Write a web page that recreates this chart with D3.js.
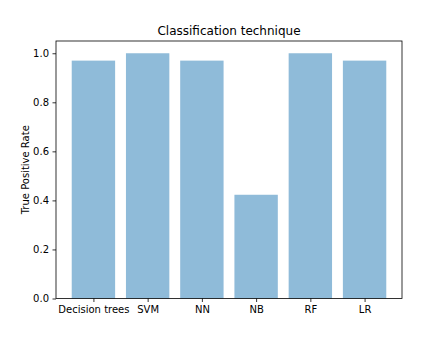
<!DOCTYPE html>
<html lang="en">
  <head>
    <title>Classification technique</title>
    <script src="https://cdn.jsdelivr.net/npm/d3@7"></script>
    <style>
      body { margin: 0; background-color: white; }
      text { font-family: "DejaVu Sans", sans-serif; }
    </style>
  </head>

  <body>
    <div id="container"></div>

<script>
    const techniques = ["Decision trees", "SVM", "NN", "NB", "RF", "LR"];
    const tpRates = [0.97, 1.0, 0.97, 0.423, 1.0, 0.97];
    const yTicks = [0.0, 0.2, 0.4, 0.6, 0.8, 1.0];

    const W = 448, H = 350;
    const margin = {top: 41, right: 46, bottom: 51.5, left: 56};
    const width = W - margin.left - margin.right;
    const height = H - margin.top - margin.bottom;

    const svg = d3.select("#container").append("svg")
      .attr("width", W)
      .attr("height", H);

    const g = svg.append("g")
      .attr("transform", `translate(${margin.left}, ${margin.top})`);

    // matplotlib-like x range: bars at integer positions, width 0.8, 5% margins
    const n = techniques.length;
    const span = (n - 1) + 0.8;
    const xAxis = d3.scaleLinear()
      .domain([-0.4 - 0.05 * span, n - 1 + 0.4 + 0.05 * span])
      .range([0, width]);

    const yAxis = d3.scaleLinear()
      .domain([0, 1.05])
      .range([height, 0]);

    g.selectAll("rect.bar")
      .data(tpRates)
      .enter()
      .append("rect")
      .attr("class", "bar")
      .attr("x", (d, i) => xAxis(i - 0.4))
      .attr("width", xAxis(0.8) - xAxis(0))
      .attr("y", d => yAxis(d))
      .attr("height", d => yAxis(0) - yAxis(d))
      .attr("fill", "rgba(31,119,180,0.5)");

    const bottom = g.append("g")
      .attr("transform", `translate(0, ${height})`)
      .call(d3.axisBottom(xAxis).tickValues(d3.range(n)).tickFormat(i => techniques[i]).tickSizeInner(3.5).tickSizeOuter(0).tickPadding(3.5));

    const left = g.append("g")
      .call(d3.axisLeft(yAxis).tickValues(yTicks).tickFormat(d3.format(".1f")).tickSizeInner(3.5).tickSizeOuter(0).tickPadding(3.5));

    [bottom, left].forEach(ax => {
      ax.select(".domain").remove();
      ax.selectAll("text").style("font-size", "10px").attr("fill", "black").style("font-family", "DejaVu Sans");
      ax.selectAll("line").attr("stroke", "black").attr("stroke-width", 0.8);
    });

    g.append("rect")
      .attr("width", width)
      .attr("height", height)
      .attr("fill", "none")
      .attr("stroke", "black")
      .attr("stroke-width", 0.8);

    svg.append("text")
      .attr("x", margin.left + width / 2)
      .attr("y", margin.top - 6)
      .attr("text-anchor", "middle")
      .style("font-size", "12px")
      .text("Classification technique");

    svg.append("text")
      .attr("transform", `translate(29, ${margin.top + height / 2}) rotate(-90)`)
      .attr("text-anchor", "middle")
      .style("font-size", "10px")
      .text("True Positive Rate");
  </script>
  </body>
</html>
